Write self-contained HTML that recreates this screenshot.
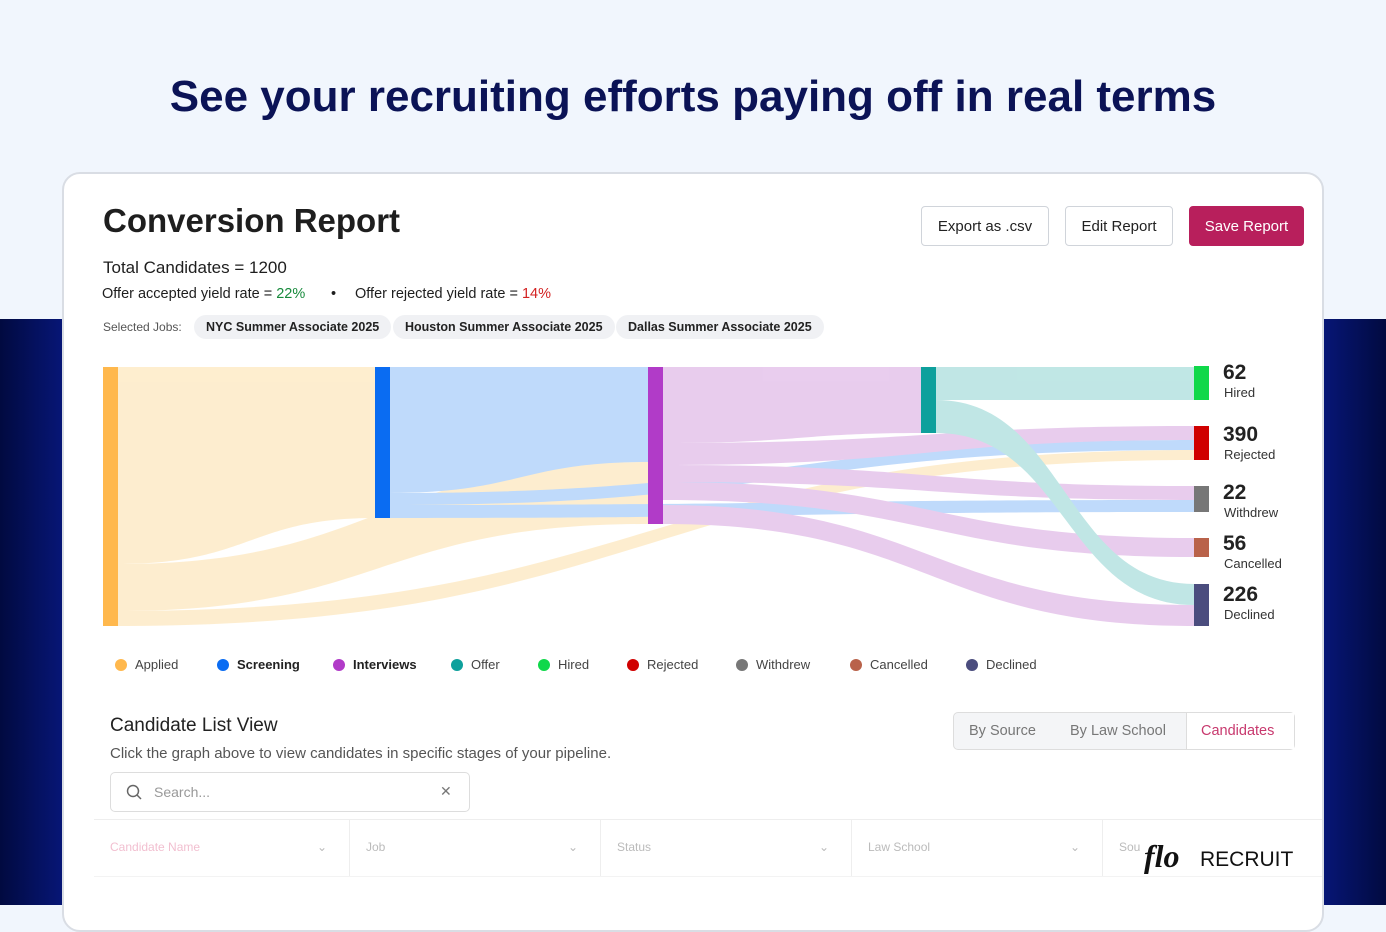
<!DOCTYPE html>
<html><head><meta charset="utf-8"><style>
*{margin:0;padding:0;box-sizing:border-box}
body{width:1386px;height:905px;overflow:hidden;font-family:"Liberation Sans",sans-serif;position:relative;background:#f1f6fd}
.bottom{position:absolute;left:0;top:319px;width:1386px;height:586px;background:linear-gradient(90deg,#010a40 0%,#0b1fa0 8%,#0b1fa0 92%,#010a40 100%)}
h1{position:absolute;top:72px;left:0;width:1386px;text-align:center;font-size:44px;font-weight:bold;color:#0b1356}
.card{position:absolute;left:62px;top:172px;width:1262px;height:760px;background:#fff;border:2px solid #d9dde4;border-radius:18px}
.abs{position:absolute}
.btn{position:absolute;top:206px;height:40px;border:1px solid #d0d4da;border-radius:4px;font-size:15px;color:#222;display:flex;align-items:center;justify-content:center;background:#fff}
.chip{position:absolute;top:315px;height:24px;background:#f0f1f4;border-radius:12px;font-size:12.5px;font-weight:bold;color:#222;display:flex;align-items:center;padding:0 12px}
.leg{position:absolute;top:657px;font-size:13px;color:#444;display:flex;align-items:center}
.leg i{display:inline-block;width:12px;height:12px;border-radius:50%;margin-right:8px}
.num{position:absolute;left:1223px;font-size:21px;font-weight:bold;color:#222}
.lab{position:absolute;left:1224px;font-size:13px;color:#333}
.th{position:absolute;top:840px;font-size:12px;color:#bbb}
</style></head><body>
<div class="bottom"></div>
<h1>See your recruiting efforts paying off in real terms</h1>
<div class="card"></div>
<div class="abs" style="left:103px;top:202px;font-size:33px;font-weight:bold;color:#1e1e1e">Conversion Report</div>
<div class="btn" style="left:921px;width:128px">Export as .csv</div>
<div class="btn" style="left:1065px;width:108px">Edit Report</div>
<div class="btn" style="left:1189px;width:115px;background:#b81f5c;border-color:#b81f5c;color:#fff">Save Report</div>
<div class="abs" style="left:103px;top:258px;font-size:17px;color:#1e1e1e">Total Candidates = 1200</div>
<div class="abs" style="left:102px;top:286px;font-size:14.5px;color:#1e1e1e">Offer accepted yield rate = <span style="color:#178a3c">22%</span></div>
<div class="abs" style="left:331px;top:286px;font-size:14.5px;color:#1e1e1e">•</div>
<div class="abs" style="left:355px;top:286px;font-size:14.5px;color:#1e1e1e">Offer rejected yield rate = <span style="color:#d32222">14%</span></div>
<div class="abs" style="left:103px;top:320px;font-size:12px;color:#555">Selected Jobs:</div>
<div class="chip" style="left:194px">NYC Summer Associate 2025</div>
<div class="chip" style="left:393px">Houston Summer Associate 2025</div>
<div class="chip" style="left:616px">Dallas Summer Associate 2025</div>
<svg class="abs" style="left:0;top:0" width="1386" height="905">
<g opacity="0.55">
<path d="M118,367 L375,367 L375,518 C250,518 250,564 118,564Z" fill="#fde0a8"/>
<path d="M118,564 C380,564 380,462 648,462 L648,524 C380,524 380,611 118,611Z" fill="#fde0a8"/>
<path d="M118,611 C650,611 650,450 1194,450 L1194,460 C650,460 650,626 118,626Z" fill="#fde0a8"/>
<path d="M390,367 L648,367 L648,462 C520,462 520,493 390,493Z" fill="#8bbcf8"/>
<path d="M390,493 C790,493 790,440 1194,440 L1194,450 C790,450 790,505 390,505Z" fill="#8bbcf8"/>
<path d="M390,505 C790,505 790,500 1194,500 L1194,512 C790,512 790,518 390,518Z" fill="#8bbcf8"/>
<path d="M663,367 L921,367 L921,433 C800,433 800,443 663,443Z" fill="#d7a4e0"/>
<path d="M663,443 C930,443 930,426 1194,426 L1194,440 C930,440 930,465 663,465Z" fill="#d7a4e0"/>
<path d="M663,465 C930,465 930,486 1194,486 L1194,500 C930,500 930,482 663,482Z" fill="#d7a4e0"/>
<path d="M663,482 C930,482 930,538 1194,538 L1194,557 C930,557 930,500 663,500Z" fill="#d7a4e0"/>
<path d="M663,505 C930,505 930,605 1194,605 L1194,626 C930,626 930,524 663,524Z" fill="#d7a4e0"/>
<path d="M936,367 L1194,367 L1194,400 L936,400Z" fill="#8dd3d0"/>
<path d="M936,400 C1065,400 1065,584 1194,584 L1194,605 C1065,605 1065,433 936,433Z" fill="#8dd3d0"/>
</g>
<rect x="103" y="367" width="15" height="259" fill="#ffb84d"/>
<rect x="375" y="367" width="15" height="151" fill="#0a6cf2"/>
<rect x="648" y="367" width="15" height="157" fill="#b13bc8"/>
<rect x="921" y="367" width="15" height="66" fill="#0ea09c"/>
<rect x="1194" y="366" width="15" height="34" fill="#10d84a"/>
<rect x="1194" y="426" width="15" height="34" fill="#d00000"/>
<rect x="1194" y="486" width="15" height="26" fill="#777"/>
<rect x="1194" y="538" width="15" height="19" fill="#b9624a"/>
<rect x="1194" y="584" width="15" height="42" fill="#4b4d7e"/>
</svg>
<div class="num" style="top:361px">62</div><div class="lab" style="top:385px">Hired</div>
<div class="num" style="top:423px">390</div><div class="lab" style="top:447px">Rejected</div>
<div class="num" style="top:481px">22</div><div class="lab" style="top:505px">Withdrew</div>
<div class="num" style="top:532px">56</div><div class="lab" style="top:556px">Cancelled</div>
<div class="num" style="top:583px">226</div><div class="lab" style="top:607px">Declined</div>
<div class="leg" style="left:115px"><i style="background:#ffb84d"></i>Applied</div>
<div class="leg" style="left:217px;color:#222;font-weight:bold"><i style="background:#0a6cf2"></i>Screening</div>
<div class="leg" style="left:333px;color:#222;font-weight:bold"><i style="background:#b13bc8"></i>Interviews</div>
<div class="leg" style="left:451px"><i style="background:#0ea09c"></i>Offer</div>
<div class="leg" style="left:538px"><i style="background:#10d84a"></i>Hired</div>
<div class="leg" style="left:627px"><i style="background:#d00000"></i>Rejected</div>
<div class="leg" style="left:736px"><i style="background:#777"></i>Withdrew</div>
<div class="leg" style="left:850px"><i style="background:#b9624a"></i>Cancelled</div>
<div class="leg" style="left:966px"><i style="background:#4b4d7e"></i>Declined</div>
<div class="abs" style="left:110px;top:715px;font-size:19px;color:#222">Candidate List View</div>
<div class="abs" style="left:110px;top:745px;font-size:15px;color:#555">Click the graph above to view candidates in specific stages of your pipeline.</div>
<div class="abs" style="left:953px;top:712px;width:342px;height:38px;border:1px solid #ddd;border-radius:5px;background:#f4f5f7"></div>
<div class="abs" style="left:1186px;top:713px;width:108px;height:36px;background:#fff;border-left:1px solid #ddd"></div>
<div class="abs" style="left:969px;top:723px;font-size:14.5px;color:#777">By Source</div>
<div class="abs" style="left:1070px;top:723px;font-size:14.5px;color:#777">By Law School</div>
<div class="abs" style="left:1201px;top:723px;font-size:14.5px;color:#c8396e">Candidates</div>
<div class="abs" style="left:110px;top:772px;width:360px;height:40px;border:1px solid #ddd;border-radius:5px"></div>
<svg class="abs" style="left:125px;top:783px" width="18" height="18"><circle cx="8" cy="8" r="5.5" fill="none" stroke="#666" stroke-width="1.5"/><line x1="12" y1="12" x2="16" y2="16" stroke="#666" stroke-width="1.5"/></svg>
<div class="abs" style="left:154px;top:784px;font-size:14px;color:#999">Search...</div>
<div class="abs" style="left:440px;top:783px;font-size:14px;color:#777">✕</div>
<div class="abs" style="left:94px;top:819px;width:1228px;height:1px;background:#eee"></div>
<div class="abs" style="left:94px;top:876px;width:1228px;height:1px;background:#f3f3f3"></div>
<div class="abs" style="left:349px;top:820px;width:1px;height:56px;background:#eee"></div>
<div class="abs" style="left:600px;top:820px;width:1px;height:56px;background:#eee"></div>
<div class="abs" style="left:851px;top:820px;width:1px;height:56px;background:#eee"></div>
<div class="abs" style="left:1102px;top:820px;width:1px;height:56px;background:#eee"></div>
<div class="th" style="left:110px;color:#f2bfd0">Candidate Name</div>
<div class="th" style="left:366px">Job</div>
<div class="th" style="left:617px">Status</div>
<div class="th" style="left:868px">Law School</div>
<div class="th" style="left:1119px">Sou</div>
<div class="th" style="left:317px">⌄</div><div class="th" style="left:568px">⌄</div><div class="th" style="left:819px">⌄</div><div class="th" style="left:1070px">⌄</div>
<div class="abs" style="left:1144px;top:838px;font-size:32px;font-style:italic;font-weight:bold;font-family:'Liberation Serif',serif;color:#111">flo</div>
<div class="abs" style="left:1200px;top:848px;font-size:21px;color:#111">RECRUIT</div>
</body></html>
